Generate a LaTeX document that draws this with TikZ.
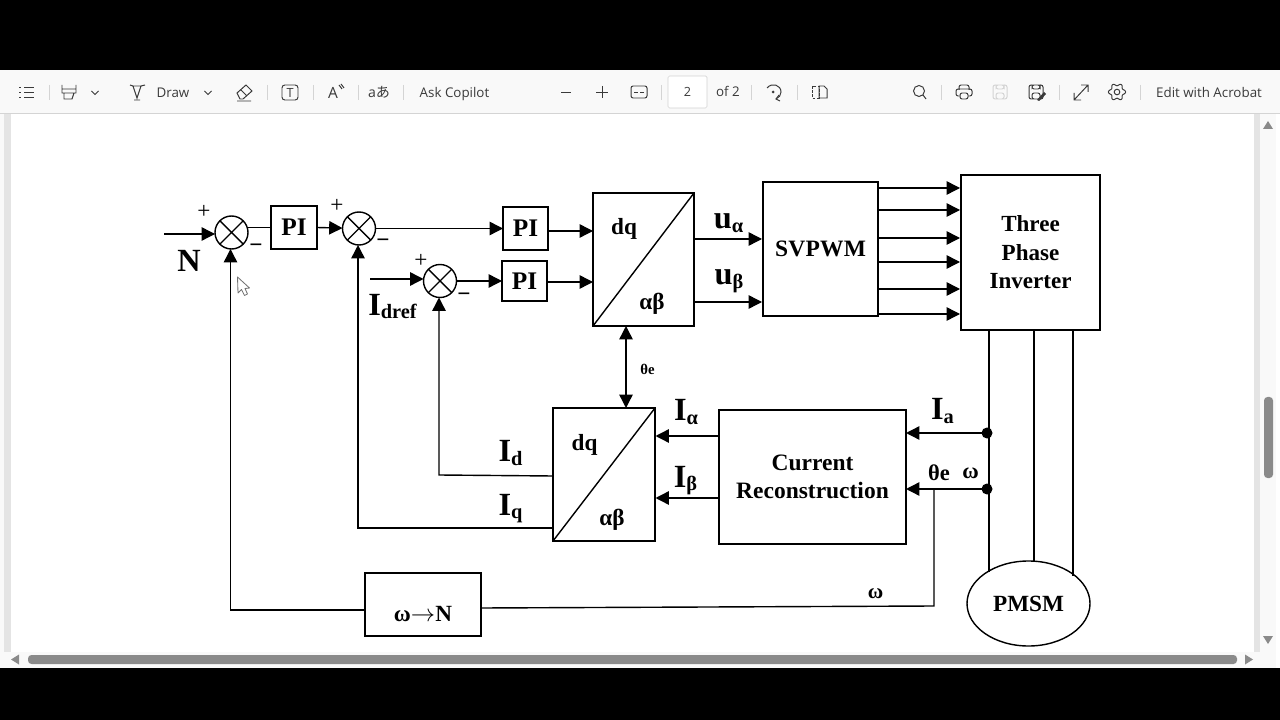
\documentclass[tikz,border=0pt]{standalone}
\usepackage{fontspec}
\setmainfont{Liberation Serif}
\newfontfamily\uifont{Open Sans}
\newfontfamily\cjkui{Noto Sans CJK JP}
\usetikzlibrary{arrows.meta,shapes.geometric,positioning}

\def\pxu{0.025cm}
\newcommand{\bigsub}[2]{{\fontsize{23}{23}\selectfont #1}\raisebox{-0.55ex}{\fontsize{14.5}{14.5}\selectfont #2}}

\definecolor{uibar}{HTML}{F9F9F9}
\definecolor{uiline}{HTML}{D4D4D4}
\definecolor{uiink}{HTML}{3A3A3A}
\definecolor{uithumb}{HTML}{8A8A8A}
\definecolor{uiband}{HTML}{E4E4E4}

\tikzset{
	sig/.style={line width=1pt},
	tip/.style={sig, -{Triangle[length=9.5pt,width=9.5pt]}},
	block/.style 2 args={draw, line width=1pt, rectangle, inner sep=0pt, outer sep=0pt, align=center, font=\fontsize{16.7}{20.3}\selectfont\bfseries, minimum width=#1*\pxu, minimum height=#2*\pxu},
	sumnode/.style={draw, circle, line width=1pt, inner sep=0pt, outer sep=0pt, minimum size=33*\pxu},
	dotnode/.style={fill=black, circle, inner sep=0pt, outer sep=0pt, minimum size=11*\pxu},
	lab/.style={inner sep=0pt, font=\fontsize{16.5}{17}\selectfont\bfseries},
	big/.style={inner sep=0pt, font=\fontsize{23}{23}\selectfont\bfseries},
	sign/.style={inner sep=0pt, font=\fontsize{16.5}{17}\selectfont},
	ui/.style={inner sep=0pt, text=uiink, font=\fontsize{9.5}{10}\selectfont\uifont},
	icon/.style={draw=uiink, line width=0.7pt},
	sep/.style={draw=uiline, line width=0.7pt},
}

\begin{document}
\begin{tikzpicture}[x=0.025cm,y=-0.025cm]

	\useasboundingbox (0,0) rectangle (1280,720);
	\fill[black] (0,0) rectangle (1280,720);
	\fill[white] (0,70) rectangle (1280,668);

	% viewer frame
	\fill[uibar] (0,70) rectangle (1280,113);
	\fill[uiline] (0,113) rectangle (1280,114.5);
	\fill[uibar] (0,114) rectangle (4,668);
	\fill[uiband] (4,114) rectangle (11,652);
	\fill[uibar] (0,652) rectangle (1276,668);
	\fill[uiband] (1254,114) rectangle (1260,652);
	\fill[uibar] (1260,114) rectangle (1276,668);
	\fill[uithumb, rounded corners=2.5pt] (28,655) rectangle (1237,664);
	\fill[uithumb, rounded corners=2.5pt] (1264,397) rectangle (1273,478);
	\fill[uithumb] (11,659.5) -- (19,654.5) -- (19,664.5) -- cycle;
	\fill[uithumb] (1253,659.5) -- (1245,654.5) -- (1245,664.5) -- cycle;
	\fill[uithumb] (1268,121) -- (1273,129) -- (1263,129) -- cycle;
	\fill[uithumb] (1268,644) -- (1273,636) -- (1263,636) -- cycle;

	% toolbar
	\draw[icon] (19,87) -- (21,87) (24,87) -- (34,87) (19,92) -- (21,92) (24,92) -- (34,92) (19,97) -- (21,97) (24,97) -- (34,97);
	\draw[sep] (49,85) -- (49,100);
	\draw[icon] (62,85) -- (62,93) -- (76,93) -- (76,85) (62,89) -- (76,89) (64,93) -- (64,99) -- (72,99) -- (74,93);
	\draw[icon] (91.5,91) -- (95,94.5) -- (98.5,91);
	\draw[icon] (130,85) -- (133,86) -- (137,98) -- (141,86) -- (145,85) (133,86) -- (141,86) (134,100) -- (140,100);
	\node[ui, anchor=base] (Draw) at (173,97.5) {Draw};
	\draw[icon] (204.5,91) -- (208,94.5) -- (211.5,91);
	\draw[icon] (237,93) -- (246,85) -- (252,91) -- (243,99) -- (240,99) -- cycle (241,90) -- (247,96) (237,101) -- (251,101);
	\draw[sep] (267,85) -- (267,100);
	\draw[icon, rounded corners=2pt] (282,85) rectangle (298,100);
	\node[ui] (TxtBox) at (290,92.5) {\fontsize{9}{9}\selectfont T};
	\draw[sep] (313,85) -- (313,100);
	\node[ui] (Read) at (333,92.5) {\fontsize{11}{11}\selectfont A};
	\draw[icon] (339,85) -- (342,89) (341,84) -- (344,88);
	\draw[sep] (358,85) -- (358,100);
	\node[ui] (Trans) at (379,92) {\fontsize{10}{10}\selectfont a\cjkui あ};
	\draw[sep] (403,85) -- (403,100);
	\node[ui, anchor=base] (Ask) at (454.5,97.5) {Ask Copilot};
	\draw[icon] (561,92) -- (571,92);
	\draw[icon] (596,92) -- (608,92) (602,86) -- (602,98);
	\draw[icon, rounded corners=1.5pt] (631,86) rectangle (647,98);
	\draw[icon] (634,92) -- (638,92) (644,92) -- (640,92);
	\draw[sep] (661,85) -- (661,100);
	\node[draw=uiline, fill=white, inner sep=0pt, minimum width=39*\pxu, minimum height=32*\pxu, rounded corners=1pt, text=uiink, font=\fontsize{9}{9}\selectfont\uifont] (PageNo) at (687.5,92) {2};
	\node[ui, anchor=base] (PageOf) at (728,97) {of 2};
	\draw[sep] (751,85) -- (751,100);
	\draw[icon] (767,88) .. controls (772,82) and (781,85) .. (781,92) .. controls (781,95) and (779,98) .. (776,99);
	\draw[icon] (779,95) -- (776,99) -- (780,101);
	\fill[uiink] (773,92) circle (1.5);
	\draw[sep] (797,85) -- (797,100);
	\draw[icon, dash pattern=on 2pt off 1pt] (812,86) rectangle (819,98);
	\draw[icon] (819,86) -- (824,86) -- (827,89) -- (827,98) -- (819,98) -- cycle;
	\draw[icon] (919,91) circle (5.5) (923,95) -- (926,99);
	\draw[sep] (941,85) -- (941,100);
	\draw[icon, rounded corners=1.5pt] (959,90) -- (959,85) -- (969,85) -- (969,90) (959,96) -- (956,96) -- (956,89) -- (972,89) -- (972,96) -- (969,96) (960,93) rectangle (968,99);
	\draw[uiline, line width=0.7pt, rounded corners=1.5pt] (993,85) rectangle (1007,99) (996,85) rectangle (1004,89) (996,93) rectangle (1004,99);
	\draw[icon, rounded corners=1.5pt] (1029,85) rectangle (1043,99) (1032,85) rectangle (1040,89) (1032,93) rectangle (1040,99);
	\fill[uiink] (1037,100) -- (1044,92) -- (1046,94) -- (1039,101) -- cycle;
	\draw[sep] (1059,85) -- (1059,100);
	\draw[icon] (1074,100) -- (1088,85) (1081,85) -- (1088,85) -- (1088,92) (1074,93) -- (1074,100) -- (1081,100);
	\draw[icon] (1117,92) circle (2.8);
	\draw[icon] plot[domain=0:360, samples=73, smooth] ({1117+(7.4+1.2*cos(6*\x))*cos(\x)},{92+(7.4+1.2*cos(6*\x))*sin(\x)});
	\draw[sep] (1140,85) -- (1140,100);
	\node[ui, anchor=base] (Edit) at (1209,97.5) {Edit with Acrobat};

	% drive diagram
	\node[sumnode] (S1) at (231.5,232.5) {};
	\node[sumnode] (S2) at (359,228.5) {};
	\node[sumnode] (S3) at (440,281) {};
	\draw[sig] (S1.45) -- (S1.225) (S1.135) -- (S1.315);
	\draw[sig] (S2.45) -- (S2.225) (S2.135) -- (S2.315);
	\draw[sig] (S3.45) -- (S3.225) (S3.135) -- (S3.315);

	\node[block={46}{43}, font=\fontsize{18}{18}\selectfont\bfseries] (PI1) at (294,227.5) {PI};
	\node[block={45}{43}, font=\fontsize{18}{18}\selectfont\bfseries] (PI2) at (525.5,228.5) {PI};
	\node[block={45}{40}, font=\fontsize{18}{18}\selectfont\bfseries] (PI3) at (524.5,281) {PI};
	\node[block={101}{133}] (Dq1) at (643.5,259.5) {};
	\node[block={102}{133}] (Dq2) at (604,474.5) {};
	\node[block={115}{134}] (SV) at (820.5,249) {\addfontfeature{LetterSpace=1}SVPWM};
	\node[block={139}{155}, font=\fontsize{16.4}{20.3}\selectfont\bfseries] (Inv) at (1030.5,252.5) {Three\\Phase\\Inverter};
	\node[block={187}{134}] (CR) at (812.5,477) {Current\\Reconstruction};
	\node[block={116}{63}] (WN) at (423,604.5) {};
	\node[draw, ellipse, line width=1pt, inner sep=0pt, outer sep=0pt, minimum width=123*\pxu, minimum height=85*\pxu, font=\fontsize{16.5}{17}\selectfont\bfseries] (PM) at (1028.5,603.5) {PMSM};

	\draw[sig] (Dq1.south west) -- (Dq1.north east);
	\draw[sig] (Dq2.south west) -- (Dq2.north east);

	\node[lab] (Dq1a) at (624,229) {dq};
	\node[lab] (Dq1b) at (652,304) {αβ};
	\node[lab] (Dq2a) at (584.5,444.5) {dq};
	\node[lab] (Dq2b) at (612,519.5) {αβ};
	\node[lab] (WNt) at (423,614) {ω$\rightarrow$N};

	\node[big] (N) at (189,261) {N};
	\node[sign] (P1) at (204,212) {+};
	\node[sign, font=\fontsize{16.5}{17}\selectfont\bfseries] (M1) at (256,248) {−};
	\node[sign] (P2) at (337,206) {+};
	\node[sign, font=\fontsize{16.5}{17}\selectfont\bfseries] (M2) at (383,243) {−};
	\node[sign] (P3) at (421,261) {+};
	\node[sign, font=\fontsize{16.5}{17}\selectfont\bfseries] (M3) at (464,297) {−};
	\node[inner sep=0pt, font=\bfseries] (Idref) at (392.5,306.5) {\bigsub{I}{dref}};
	\node[inner sep=0pt, font=\bfseries] (Ua) at (728.5,223) {\bigsub{u}{α}};
	\node[inner sep=0pt, font=\bfseries] (Ub) at (729,281) {\bigsub{u}{β}};
	\node[lab, font=\fontsize{10.5}{11}\selectfont\bfseries] (Th1) at (647.5,369) {θe};
	\node[inner sep=0pt, font=\bfseries] (Ial) at (686,412) {\bigsub{I}{α}};
	\node[inner sep=0pt, font=\bfseries] (Ibe) at (685.5,480.5) {\bigsub{I}{β}};
	\node[inner sep=0pt, font=\bfseries] (Id) at (510.5,453) {\bigsub{I}{d}};
	\node[inner sep=0pt, font=\bfseries] (Iq) at (510.5,508.5) {\bigsub{I}{q}};
	\node[inner sep=0pt, font=\bfseries] (Ia) at (942.5,411) {\bigsub{I}{a}};
	\node[lab, font=\fontsize{16}{16}\selectfont\bfseries] (Th2) at (939,473) {θe};
	\node[lab, font=\fontsize{16}{16}\selectfont\bfseries] (Om1) at (970.5,473.5) {ω};
	\node[lab, font=\fontsize{15}{15}\selectfont\bfseries] (Om2) at (875.5,593.5) {ω};

	\node[dotnode] (D1) at (987,433) {};
	\node[dotnode] (D2) at (987,489) {};

	\coordinate (In1) at (164,234);
	\coordinate (In3) at (370,279);
	\coordinate (Dq1p) at (593,231);
	\coordinate (Dq1q) at (593,282);
	\coordinate (SVa) at (762,239);
	\coordinate (SVb) at (762,302);
	\coordinate (Inv1) at (960,188);
	\coordinate (Inv2) at (960,210);
	\coordinate (Inv3) at (960,238);
	\coordinate (Inv4) at (960,262);
	\coordinate (Inv5) at (960,289);
	\coordinate (Inv6) at (960,314);
	\coordinate (Dq2a1) at (655.5,436);
	\coordinate (Dq2b1) at (655.5,498);
	\coordinate (CRa) at (906,433);
	\coordinate (CRb) at (906,489);
	\coordinate (Br) at (934,489);
	\coordinate (Br2) at (934,606);
	\coordinate (WNe) at (481,608);
	\coordinate (WNw) at (365,610);
	\coordinate (LeftA) at (230.5,610);
	\coordinate (Dq2c) at (553,476);
	\coordinate (Dq2d) at (553,528);
	\coordinate (MidC) at (439,475);
	\coordinate (MidD) at (358,528);
	\coordinate (Mot1) at (989,572);
	\coordinate (Mot2) at (1034,561);
	\coordinate (Mot3) at (1073,576);
	\coordinate (InvA) at (989,330);
	\coordinate (InvB) at (1034,330);
	\coordinate (InvC) at (1073,330);

	\draw[tip] (In1) -- (S1.west |- In1);
	\draw[sig] (S1.east |- PI1.west) -- (PI1.west);
	\draw[tip] (PI1.east) -- (S2);
	\draw[tip] (S2.east |- PI2.west) -- (PI2.west);
	\draw[tip] (In3) -- (S3.west |- In3);
	\draw[tip] (S3.east |- PI3.west) -- (PI3.west);
	\draw[tip] (PI2.east |- Dq1p) -- (Dq1p);
	\draw[tip] (PI3.east |- Dq1q) -- (Dq1q);
	\draw[tip] (Dq1.east |- SVa) -- (SVa);
	\draw[tip] (Dq1.east |- SVb) -- (SVb);

	\draw[tip] (SV.east |- Inv1) -- (Inv1);
	\draw[tip] (SV.east |- Inv2) -- (Inv2);
	\draw[tip] (SV.east |- Inv3) -- (Inv3);
	\draw[tip] (SV.east |- Inv4) -- (Inv4);
	\draw[tip] (SV.east |- Inv5) -- (Inv5);
	\draw[tip] (SV.east |- Inv6) -- (Inv6);

	\draw[sig, {Triangle[length=9.5pt,width=9.5pt]}-{Triangle[length=9.5pt,width=9.5pt]}] (Dq1.south -| 626,0) -- (Dq2.north -| 626,0);
	\draw[tip] (CR.west |- Dq2a1) -- (Dq2a1);
	\draw[tip] (CR.west |- Dq2b1) -- (Dq2b1);
	\draw[tip] (D1) -- (CRa);
	\draw[tip] (D2) -- (CRb);

	\draw[sig] (InvA) -- (Mot1);
	\draw[sig] (InvB) -- (Mot2);
	\draw[sig] (InvC) -- (Mot3);

	\draw[sig] (Br) -- (Br2) -- (WNe);
	\draw[tip] (WNw) -- (LeftA) -- (S1.south -| LeftA);
	\draw[tip] (Dq2c) -- (MidC) -- (S3.south -| MidC);
	\draw[tip] (Dq2d) -- (MidD) -- (S2.south -| MidD);

	\draw[draw=black!55, fill=white, line width=0.6pt, line join=round] (237.5,277) -- (238,293) -- (241.5,289.5) -- (244.5,295.5) -- (247.5,294) -- (245,288.5) -- (249.5,288) -- cycle;

\end{tikzpicture}
\end{document}
